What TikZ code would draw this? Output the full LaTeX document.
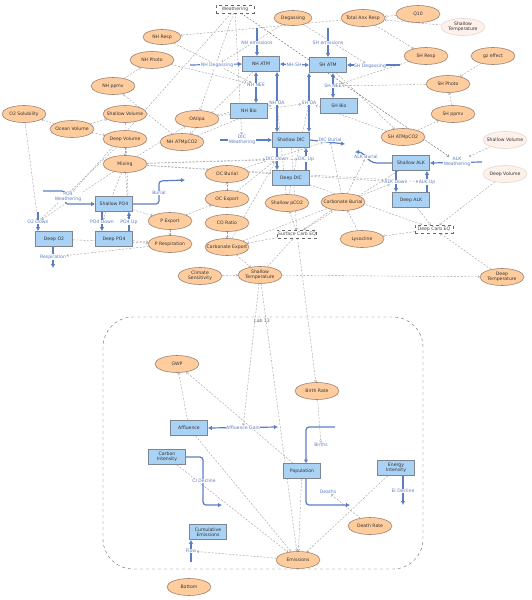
\documentclass[tikz,border=0pt]{standalone}
\usepackage{fontspec}
\setmainfont{DejaVu Sans}
\usetikzlibrary{positioning,arrows.meta,shapes.geometric,backgrounds}
\definecolor{peach}{HTML}{FFCC9E}
\definecolor{peachline}{HTML}{9C8272}
\definecolor{stockfill}{HTML}{A9D2F5}
\definecolor{stockline}{HTML}{7D8690}
\definecolor{flowblue}{HTML}{5B7EC2}
\definecolor{linkgray}{HTML}{9E9E9E}
\definecolor{ghostfill}{HTML}{FDF1EA}
\definecolor{ghostline}{HTML}{E4D8D0}

\begin{document}
\begin{tikzpicture}[x=1pt,y=-1pt,
    font=\fontsize{4.6}{5.3}\selectfont,
    aux/.style={ellipse,draw=peachline,fill=peach,line width=0.6pt,minimum width=44pt,minimum height=17pt,inner xsep=-12pt,inner ysep=-3pt,align=center,text=black!80},
    ghost/.style={aux,draw=ghostline,fill=ghostfill},
    stock/.style={draw=stockline,fill=stockfill,line width=0.7pt,minimum width=37pt,minimum height=15pt,inner sep=0pt,align=center,text=black!80},
    conv/.style={draw=black!60,dashed,fill=white,minimum width=38pt,minimum height=8pt,inner sep=0.5pt,text=black!70},
    flow/.style={draw=flowblue,line width=1.2pt,-{Latex[length=4pt,width=4.5pt]}},
    biflow/.style={flow,{Latex[length=4pt,width=4.5pt]}-{Latex[length=4pt,width=4.5pt]}},
    flowlab/.style={text=flowblue,fill=white,inner sep=0.5pt,align=center},
    link/.style={draw=linkgray,line width=0.4pt,dash pattern=on 2pt off 1.5pt,-{Straight Barb[length=1.6pt,width=2.6pt]}}
  ]
  % carbon cycle: variables
  \node[conv] (wthr) at (235,9) {Weathering};
  \node[aux,minimum width=38pt,minimum height=15pt] (degas) at (293,18) {Degassing};
  \node[aux] (totresp) at (363,18) {Total Anx Resp};
  \node[aux] (qten) at (418,14) {Q10};
  \node[ghost] (ghshtemp) at (463,27) {Shallow\\Temperature};
  \node[aux,minimum width=38pt,minimum height=15pt] (nhresp) at (162,37) {NH Resp};
  \node[aux] (nhphoto) at (152,60) {NH Photo};
  \node[aux] (nhppmv) at (113,86) {NH ppmv};
  \node[aux] (shresp) at (426,56) {SH Resp};
  \node[aux] (gzeff) at (493,56) {gz effect};
  \node[aux] (shphoto) at (448,84) {SH Photo};
  \node[aux] (shppmv) at (453,114) {SH ppmv};
  \node[aux] (otwo) at (24,114) {O2 Solubility};
  \node[aux] (ocvol) at (72,129) {Ocean Volume};
  \node[aux] (shvol) at (125,114) {Shallow Volume};
  \node[aux] (dpvol) at (125,139) {Deep Volume};
  \node[aux] (oatipa) at (197,119) {OAtipa};
  \node[aux] (nhpco) at (182,142) {NH ATMpCO2};
  \node[aux] (shpco) at (403,137) {SH ATMpCO2};
  \node[ghost] (ghshvol) at (505,140) {Shallow Volume};
  \node[ghost] (ghdpvol) at (505,174) {Deep Volume};
  \node[aux] (mixing) at (125,164) {Mixing};
  \node[aux] (ocburial) at (227,174) {OC Burial};
  \node[aux] (ocexport) at (227,199) {OC Export};
  \node[aux] (coratio) at (227,223) {CO Ratio};
  \node[aux] (carbexp) at (227,247) {Carbonate Export};
  \node[aux] (pexport) at (170,221) {P Export};
  \node[aux] (presp) at (170,244) {P Respiration};
  \node[aux] (shpco2) at (287,203) {Shallow pCO2};
  \node[aux] (carbburial) at (343,202) {Carbonate Burial};
  \node[aux] (lyso) at (362,239) {Lysocline};
  \node[aux] (climsens) at (200,276) {Climate\\Sensitivity};
  \node[aux] (shtemp) at (260,275) {Shallow\\Temperature};
  \node[aux] (dptemp) at (502,277) {Deep\\Temperature};
  \node[conv] (dceq) at (434,229) {Deep Carb EQ};
  \node[conv] (sceq) at (297,234) {Surface Carb EQ};

  % carbon cycle: stocks
  \node[stock] (nhatm) at (261,64) {NH ATM};
  \node[stock] (shatm) at (328,65) {SH ATM};
  \node[stock] (nhbio) at (249,111) {NH Bio};
  \node[stock] (shbio) at (339,106) {SH Bio};
  \node[stock] (shdic) at (291,140) {Shallow DIC};
  \node[stock] (dpdic) at (291,178) {Deep DIC};
  \node[stock] (shpofour) at (114,204) {Shallow PO4};
  \node[stock] (dppofour) at (114,239) {Deep PO4};
  \node[stock] (dpotwo) at (54,239) {Deep O2};
  \node[stock] (shalk) at (411,163) {Shallow ALK};
  \node[stock] (dpalk) at (411,200) {Deep ALK};

  % carbon cycle: flow labels
  \node[flowlab] (nhemis) at (257,43) {NH emissions};
  \node[flowlab] (shemis) at (328,43) {SH emissions};
  \node[flowlab] (nhdegas) at (217,65) {NH Degassing};
  \node[flowlab] (shdegas) at (370,66) {SH Degassing};
  \node[flowlab] (nhsh) at (294,65) {NH-SH};
  \node[flowlab] (nhnee) at (256,85) {NH NEE};
  \node[flowlab] (shnee) at (333,86) {SH NEE};
  \node[flowlab] (nhoa) at (277,103) {NH OA};
  \node[flowlab] (shoa) at (309,103) {SH OA};
  \node[flowlab] (dicw) at (242,140) {DIC\\Weathering};
  \node[flowlab] (dicburial) at (330,140) {DIC Burial};
  \node[flowlab] (dicdown) at (277,159) {DIC Down};
  \node[flowlab] (dicup) at (306,159) {DIC Up};
  \node[flowlab] (alkburial) at (366,157) {ALK Burial};
  \node[flowlab] (alkw) at (457,162) {ALK\\Weathering};
  \node[flowlab] (alkdown) at (396,182) {ALK Down};
  \node[flowlab] (alkup) at (427,182) {ALK Up};
  \node[flowlab] (pofourw) at (68,197) {PO4\\Weathering};
  \node[flowlab] (burial) at (159,193) {Burial};
  \node[flowlab] (pofourdown) at (102,222) {PO4 Down};
  \node[flowlab] (pofourup) at (129,222) {PO4 Up};
  \node[flowlab] (otwodown) at (38,222) {O2 Down};
  \node[flowlab] (resp) at (53,257) {Respiration};

  % lab 13
  \node[text=black!60] (lab) at (262,321) {Lab 13};
  \node[aux] (gwp) at (177,364) {GWP};
  \node[aux] (birthrate) at (317,391) {Birth Rate};
  \node[stock] (affl) at (189,428) {Affluence};
  \node[stock] (carbint) at (167,457) {Carbon\\Intensity};
  \node[stock] (pop) at (302,471) {Population};
  \node[stock] (enint) at (396,468) {Energy\\Intensity};
  \node[aux] (deathrate) at (370,526) {Death Rate};
  \node[stock] (cumem) at (208,532) {Cumulative\\Emissions};
  \node[aux] (emis) at (298,560) {Emissions};
  \node[aux] (bottom) at (189,587) {Bottom};
  \node[flowlab] (afflgain) at (243,428) {Affluence Gain};
  \node[flowlab] (births) at (321,445) {Births};
  \node[flowlab] (cidecl) at (204,481) {CI Decline};
  \node[flowlab] (deaths) at (328,492) {Deaths};
  \node[flowlab] (eidecl) at (403,491) {EI Decline};
  \node[flowlab] (flw) at (191,551) {Flow};

  % free ends of flows
  \coordinate (nhemisSrc) at (257,28);
  \coordinate (shemisSrc) at (328,28);
  \coordinate (nhdegasSrc) at (190,65);
  \coordinate (shdegasSrc) at (400,65);
  \coordinate (dicwSrc) at (220,140);
  \coordinate (dicburialEnd) at (345,144);
  \coordinate (alkburialEnd) at (355,152);
  \coordinate (alkwSrc) at (482,162);
  \coordinate (pofourwSrc) at (43,191);
  \coordinate (burialEnd) at (185,180);
  \coordinate (otwodownSrc) at (38,212);
  \coordinate (respEnd) at (53,268);
  \coordinate (afflgainEnd) at (278,427);
  \coordinate (birthsSrc) at (335,427);
  \coordinate (cideclEnd) at (222,505);
  \coordinate (deathsEnd) at (350,505);
  \coordinate (eideclEnd) at (403,505);
  \coordinate (flwSrc) at (191,562);

  \begin{pgfonlayer}{background}
    \path[fill=white,use as bounding box] (0,0) rectangle (532,600);
    \draw[black!60,dashed,rounded corners=30pt] (103,317) rectangle (423,569);

    % links
    \draw[link] (totresp) -- (nhresp);
    \draw[link] (totresp) -- (shresp);
    \draw[link] (qten) -- (totresp);
    \draw[link] (ghshtemp) -- (totresp);
    \draw[link] (gzeff) -- (shphoto);
    \draw[link] (shppmv) -- (shphoto);
    \draw[link] (shpco) -- (shppmv);
    \draw[link] (shatm) -- (shpco);
    \draw[link] (nhppmv) -- (nhphoto);
    \draw[link] (nhpco) -- (nhppmv);
    \draw[link] (nhatm) -- (nhpco);
    \draw[link] (nhphoto) -- (nhnee);
    \draw[link] (nhresp) -- (nhnee);
    \draw[link] (shphoto) -- (shnee);
    \draw[link] (shresp) -- (shnee);
    \draw[link] (degas) -- (nhdegas);
    \draw[link] (degas) -- (shdegas);
    \draw[link] (wthr) -- (oatipa);
    \draw[link] (wthr) -- (dicw);
    \draw[link] (wthr) -- (pofourw);
    \draw[link,draw=black!60] (wthr) -- (alkw);
    \draw[link] (oatipa) -- (nhoa);
    \draw[link] (oatipa) -- (shoa);
    \draw[link] (nhpco) -- (nhoa);
    \draw[link] (shpco) -- (shoa);
    \draw[link] (shpco2) -- (nhoa);
    \draw[link] (shpco2) -- (shoa);
    \draw[link] (ocvol) -- (otwo);
    \draw[link] (ocvol) -- (shvol);
    \draw[link] (ocvol) -- (dpvol);
    \draw[link] (dpvol) -- (mixing);
    \draw[link] (shvol) -- (pofourup);
    \draw[link] (dpvol) -- (otwodown);
    \draw[link] (otwo) -- (otwodown);
    \draw[link] (mixing) -- (otwodown);
    \draw[link] (mixing) -- (pofourdown);
    \draw[link] (mixing) -- (pofourup);
    \draw[link] (mixing) -- (dicdown);
    \draw[link] (mixing) -- (dicup);
    \draw[link] (mixing) -- (alkdown);
    \draw[link] (mixing) -- (alkup);
    \draw[link] (mixing) -- (oatipa);
    \draw[link] (shpofour) -- (pexport);
    \draw[link] (pexport) -- (presp);
    \draw[link] (dpotwo) -- (presp);
    \draw[link] (dppofour) -- (presp);
    \draw[link] (presp) -- (resp);
    \draw[link] (pexport) -- (ocexport);
    \draw[link] (ocexport) -- (ocburial);
    \draw[link] (ocexport) -- (dicdown);
    \draw[link] (ocburial) -- (dicburial);
    \draw[link] (coratio) -- (carbexp);
    \draw[link] (carbexp) -- (dicdown);
    \draw[link] (carbexp) -- (alkdown);
    \draw[link] (carbexp) -- (shtemp);
    \draw[link] (climsens) -- (shtemp);
    \draw[link] (shtemp) -- (dptemp);
    \draw[link] (dptemp) -- (dceq);
    \draw[link] (ghdpvol) -- (dceq);
    \draw[link] (ghshvol) -- (alkw);
    \draw[link] (dceq) -- (lyso);
    \draw[link] (lyso) -- (carbburial);
    \draw[link] (sceq) -- (shpco2);
    \draw[link] (sceq) -- (carbburial);
    \draw[link] (sceq) -- (carbexp);
    \draw[link] (shdic) -- (sceq);
    \draw[link] (shalk) -- (sceq);
    \draw[link] (shtemp) -- (sceq);
    \draw[link] (dpdic) -- (dceq);
    \draw[link] (dpalk) -- (dceq);
    \draw[link] (carbburial) -- (alkburial);
    \draw[link] (carbburial) -- (dicburial);
    \draw[link] (shtemp) -- (afflgain);
    \draw[link] (shtemp) -- (emis);
    \draw[link] (sceq) -- (birthrate);
    \draw[link] (affl) -- (gwp);
    \draw[link] (pop) -- (gwp);
    \draw[link] (birthrate) -- (births);
    \draw[link] (affl) -- (emis);
    \draw[link] (carbint) -- (emis);
    \draw[link] (pop) -- (emis);
    \draw[link] (enint) -- (emis);
    \draw[link] (deathrate) -- (deaths);
    \draw[link] (emis) -- (flw);

    % flows
    \draw[flow] (nhemisSrc) -- (nhemisSrc |- nhatm.north);
    \draw[flow] (shemisSrc) -- (shemisSrc |- shatm.north);
    \draw[flow] (nhdegasSrc) -- (nhatm.west);
    \draw[flow] (shdegasSrc) -- (shatm.east);
    \draw[biflow] (nhatm.east) -- (shatm.west);
    \draw[biflow] (nhnee |- nhatm.south) -- (nhnee |- nhbio.north);
    \draw[biflow] (shnee |- shatm.south) -- (shnee |- shbio.north);
    \draw[biflow] (nhoa |- nhatm.south) -- (nhoa |- shdic.north);
    \draw[biflow] (shoa |- shatm.south) -- (shoa |- shdic.north);
    \draw[flow] (dicwSrc) -- (shdic.west);
    \draw[flow] (shdic.east) -- (dicburialEnd);
    \draw[flow] (dicdown |- shdic.south) -- (dicdown |- dpdic.north);
    \draw[flow] (dicup |- dpdic.north) -- (dicup |- shdic.south);
    \draw[flow] (shalk.west) -- (377,163) to[out=180,in=0] (alkburialEnd);
    \draw[flow] (alkwSrc) -- (shalk.east);
    \draw[flow] (alkdown |- shalk.south) -- (alkdown |- dpalk.north);
    \draw[flow] (alkup |- dpalk.north) -- (alkup |- shalk.south);
    \draw[flow,rounded corners=3pt] (pofourwSrc) -- (65,191) -- (65,204) -- (shpofour.west);
    \draw[flow,rounded corners=3pt] (shpofour.east) -- (159,204) -- (159,181) -- (burialEnd);
    \draw[flow] (pofourdown |- shpofour.south) -- (pofourdown |- dppofour.north);
    \draw[flow] (pofourup |- dppofour.north) -- (pofourup |- shpofour.south);
    \draw[flow] (otwodownSrc) -- (otwodownSrc |- dpotwo.north);
    \draw[flow] (resp |- dpotwo.south) -- (respEnd);
    \draw[biflow] (affl.east) -- (afflgainEnd);
    \draw[flow,rounded corners=3pt] (birthsSrc) -- (306,427) -- (306,463.5);
    \draw[flow,rounded corners=3pt] (carbint.east) -- (203,457) -- (203,505) -- (cideclEnd);
    \draw[flow,rounded corners=3pt] (306,478.5) -- (306,505) -- (deathsEnd);
    \draw[flow] (eidecl |- enint.south) -- (eideclEnd);
    \draw[flow] (flwSrc) -- (flwSrc |- cumem.south);
  \end{pgfonlayer}
\end{tikzpicture}
\end{document}
